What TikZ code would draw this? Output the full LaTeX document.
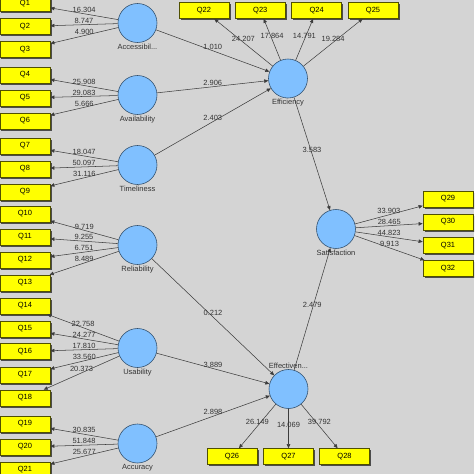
\documentclass[tikz,border=0pt]{standalone}
\usepackage{fontspec}
\setmainfont{Liberation Sans}
\usetikzlibrary{arrows.meta,shadows}

\definecolor{bggray}{RGB}{212,212,212}
\definecolor{lvblue}{RGB}{128,192,255}
\definecolor{lvedge}{RGB}{50,80,110}
\definecolor{mvyellow}{RGB}{255,255,0}
\definecolor{mvedge}{RGB}{80,80,0}
\definecolor{linkgray}{RGB}{60,60,60}

\tikzset{
  lv/.style={circle, draw=lvedge, fill=lvblue, line width=0.5pt, minimum size=1.17cm, inner sep=0pt},
  lvname/.style={inner sep=0.6pt, text=black!80},
  mv/.style={rectangle, draw=mvedge, fill=mvyellow, line width=0.5pt, minimum width=1.5cm, minimum height=0.48cm, inner sep=0pt,
    drop shadow={shadow xshift=0.045cm, shadow yshift=-0.045cm, fill=black!70, opacity=1}},
  link/.style={draw=linkgray, line width=0.45pt, -{Triangle[length=3.5pt,width=3pt]}},
  coef/.style={above, inner sep=0.8pt, text=black!80},
}

\begin{document}
\begin{tikzpicture}[x=0.03cm, y=-0.03cm, font=\fontsize{6.4}{7.5}\selectfont]

\useasboundingbox (0,0) rectangle (474,474);
\clip (0,0) rectangle (474,474);
\fill[bggray] (0,0) rectangle (474,474);

% indicators left
\node[mv] (q1)  at (25,3.5)  {Q1};
\node[mv] (q2)  at (25,26.5) {Q2};
\node[mv] (q3)  at (25,49.5) {Q3};
\node[mv] (q4)  at (25,75)   {Q4};
\node[mv] (q5)  at (25,98)   {Q5};
\node[mv] (q6)  at (25,121)  {Q6};
\node[mv] (q7)  at (25,146)  {Q7};
\node[mv] (q8)  at (25,169)  {Q8};
\node[mv] (q9)  at (25,192)  {Q9};
\node[mv] (q10) at (25,214)  {Q10};
\node[mv] (q11) at (25,237)  {Q11};
\node[mv] (q12) at (25,260)  {Q12};
\node[mv] (q13) at (25,283)  {Q13};
\node[mv] (q14) at (25,306)  {Q14};
\node[mv] (q15) at (25,329)  {Q15};
\node[mv] (q16) at (25,351.5){Q16};
\node[mv] (q17) at (25,375)  {Q17};
\node[mv] (q18) at (25,398)  {Q18};
\node[mv] (q19) at (25,424)  {Q19};
\node[mv] (q20) at (25,447)  {Q20};
\node[mv] (q21) at (25,470)  {Q21};

% indicators top, bottom, right
\node[mv] (q22) at (204,10.5)   {Q22};
\node[mv] (q23) at (260.3,10.5) {Q23};
\node[mv] (q24) at (316.6,10.5) {Q24};
\node[mv] (q25) at (373,10.5)   {Q25};
\node[mv] (q26) at (232,456.5)  {Q26};
\node[mv] (q27) at (288.5,456.5){Q27};
\node[mv] (q28) at (344.5,456.5){Q28};
\node[mv] (q29) at (448,199)    {Q29};
\node[mv] (q30) at (448,222)    {Q30};
\node[mv] (q31) at (448,245.5)  {Q31};
\node[mv] (q32) at (448,268.5)  {Q32};

% latent variables
\node[lv, label={[lvname]below:Accessibil...}] (acc) at (137.5,23)  {};
\node[lv, label={[lvname]below:Availability}]  (ava) at (137.5,95)  {};
\node[lv, label={[lvname]below:Timeliness}]    (tim) at (137.5,165) {};
\node[lv, label={[lvname]below:Reliability}]   (rel) at (137.5,245) {};
\node[lv, label={[lvname]below:Usability}]     (usa) at (137.5,348) {};
\node[lv, label={[lvname]below:Accuracy}]      (acu) at (137.5,443.5) {};
\node[lv, label={[lvname]below:Efficiency}]    (eff) at (288,78.5) {};
\node[lv, label={[lvname]below:Satisfaction}]  (sat) at (336,229)  {};
\node[lv, label={[lvname]above:Effectiven...}] (efv) at (288.5,389) {};

% outer model
\draw[link] (acc) -- node[coef] {16.304} (q1);
\draw[link] (acc) -- node[coef] {8.747}  (q2);
\draw[link] (acc) -- node[coef] {4.900}  (q3);
\draw[link] (ava) -- node[coef] {25.908} (q4);
\draw[link] (ava) -- node[coef] {29.083} (q5);
\draw[link] (ava) -- node[coef] {5.666}  (q6);
\draw[link] (tim) -- node[coef] {18.047} (q7);
\draw[link] (tim) -- node[coef] {50.097} (q8);
\draw[link] (tim) -- node[coef] {31.116} (q9);
\draw[link] (rel) -- node[coef] {9.719}  (q10);
\draw[link] (rel) -- node[coef] {9.255}  (q11);
\draw[link] (rel) -- node[coef] {6.751}  (q12);
\draw[link] (rel) -- node[coef] {8.489}  (q13);
\draw[link] (usa) -- node[coef] {22.758} (q14);
\draw[link] (usa) -- node[coef] {24.277} (q15);
\draw[link] (usa) -- node[coef] {17.810} (q16);
\draw[link] (usa) -- node[coef] {33.560} (q17);
\draw[link] (usa) -- node[coef] {20.373} (q18);
\draw[link] (acu) -- node[coef] {30.835} (q19);
\draw[link] (acu) -- node[coef] {51.848} (q20);
\draw[link] (acu) -- node[coef] {25.677} (q21);
\draw[link] (eff) -- node[coef] {24.207} (q22);
\draw[link] (eff) -- node[coef] {17.864} (q23);
\draw[link] (eff) -- node[coef] {14.791} (q24);
\draw[link] (eff) -- node[coef] {19.284} (q25);
\draw[link] (efv) -- node[coef] {26.149} (q26);
\draw[link] (efv) -- node[coef] {14.069} (q27);
\draw[link] (efv) -- node[coef] {39.792} (q28);
\draw[link] (sat) -- node[coef] {33.903} (q29);
\draw[link] (sat) -- node[coef] {28.465} (q30);
\draw[link] (sat) -- node[coef] {44.823} (q31);
\draw[link] (sat) -- node[coef] {9.913}  (q32);

% inner model
\draw[link] (acc) -- node[coef] {1.010} (eff);
\draw[link] (ava) -- node[coef] {2.906} (eff);
\draw[link] (tim) -- node[coef] {2.403} (eff);
\draw[link] (rel) -- node[coef] {0.212} (efv);
\draw[link] (usa) -- node[coef] {3.889} (efv);
\draw[link] (acu) -- node[coef] {2.898} (efv);
\draw[link] (eff) -- node[coef] {3.583} (sat);
\draw[link] (efv) -- node[coef] {2.479} (sat);

\end{tikzpicture}
\end{document}
